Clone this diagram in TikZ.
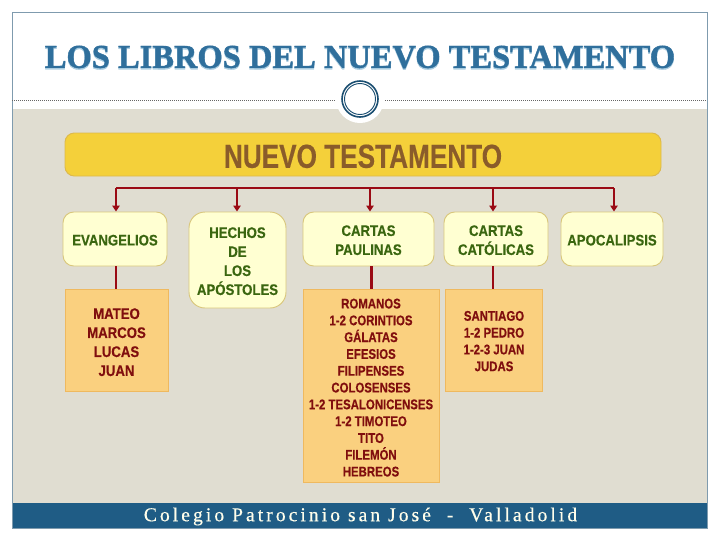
\documentclass[tikz,border=0pt]{standalone}
\usepackage{fontspec}
\usetikzlibrary{arrows.meta}
\setmainfont{Liberation Sans}
\newfontfamily\nar[FakeStretch=0.86,FakeBold=0.4]{Liberation Sans}
\newfontfamily\narr[FakeStretch=0.815,FakeBold=0.4]{Liberation Sans}
\newfontfamily\nart[FakeStretch=0.785,FakeBold=0.4]{Liberation Sans}
\newfontfamily\ttl[FakeStretch=0.975,FakeBold=1.2]{Liberation Serif}
\newfontfamily\foot[LetterSpace=15.5,FakeBold=0.4]{Liberation Serif}
\newcommand\lift[1]{\rule{0pt}{#1}}
\definecolor{bgray}{HTML}{E0DDD1}
\definecolor{foot}{HTML}{1F5C85}
\definecolor{frameC}{HTML}{7F9BAE}
\definecolor{ttlblue}{HTML}{2F6F9C}
\definecolor{ttlshadow}{HTML}{A9CCE0}
\definecolor{banner}{HTML}{F4D03A}
\definecolor{bannerE}{HTML}{DDB94C}
\definecolor{bannerT}{HTML}{8A5C2A}
\definecolor{paleY}{HTML}{FFFFD2}
\definecolor{paleE}{HTML}{D9C77C}
\definecolor{green}{HTML}{3A6610}
\definecolor{org}{HTML}{FAD07F}
\definecolor{orgE}{HTML}{EFB95F}
\definecolor{dred}{HTML}{800E0E}
\definecolor{conn}{HTML}{9A0A14}
\tikzset{
  x=0.75pt,y=-0.75pt,
  sz/.style 2 args={minimum width=#1*0.75pt,minimum height=#2*0.75pt,inner sep=0pt},
  headbox/.style={draw=paleE,fill=paleY,line width=0.7pt,rounded corners=8pt,text=green,align=center,
    font=\nar\bfseries\fontsize{11.5}{14.25}\selectfont},
  listbox/.style={draw=orgE,fill=org,line width=0.7pt,text=dred,align=center},
  link/.style={draw=conn,line width=2.2pt},
  arrowlink/.style={link,-{Triangle[width=5.5pt,length=4.5pt]}},
}
\begin{document}
\begin{tikzpicture}
\useasboundingbox (0,0) rectangle (720,540);
\fill[white] (0,0) rectangle (720,540);
\fill[bgray] (12,109) rectangle (707,503);
\fill[foot] (12,503) rectangle (707,528);
\draw[frameC,line width=0.75pt] (12,12.5) rectangle (707,528);
\draw[densely dotted,gray!80!black,line width=0.5pt] (12,100) -- (335,100);
\draw[densely dotted,gray!80!black,line width=0.5pt] (383,100) -- (707,100);
\fill[white] (360,99) circle[radius=24];
\draw[foot!85!black,line width=1.2pt] (360,99) circle[radius=18];
\draw[foot!85!black,line width=0.7pt] (360,99) circle[radius=15.5];
\node[text=ttlshadow,font=\ttl\bfseries\fontsize{25}{30}\selectfont] at (360,58.5) {LOS LIBROS DEL NUEVO TESTAMENTO};
\node (title) [text=ttlblue,font=\ttl\bfseries\fontsize{25}{30}\selectfont] at (360,57) {LOS LIBROS DEL NUEVO TESTAMENTO};
\node (nt) [sz={596}{43},draw=bannerE,fill=banner,line width=0.7pt,rounded corners=7pt,text=bannerT,
  font=\nart\bfseries\fontsize{25}{30}\selectfont,align=center] at (363,154.5) {\lift{20.2pt}NUEVO TESTAMENTO};
\node (ev) [headbox,sz={104}{54}] at (115,239) {\lift{9.8pt}EVANGELIOS};
\node (he) [headbox,sz={97}{96},rounded corners=12pt] at (237.5,260) {\lift{9.8pt}HECHOS\\DE\\LOS\\APÓSTOLES};
\node (pa) [headbox,sz={131}{54}] at (368.5,239) {\lift{9.8pt}CARTAS\\PAULINAS};
\node (ca) [headbox,sz={104}{54}] at (496,239) {\lift{9.8pt}CARTAS\\CATÓLICAS};
\node (ap) [headbox,sz={102}{54}] at (612,239) {\lift{9.8pt}APOCALIPSIS};
\node (l1) [listbox,sz={103}{102},font=\nar\bfseries\fontsize{11.5}{14.25}\selectfont] at (116.5,340) {\lift{11.3pt}MATEO\\MARCOS\\LUCAS\\JUAN};
\node (l2) [listbox,sz={136}{193},font=\narr\bfseries\fontsize{10.5}{12.6}\selectfont] at (371,385.5) {\lift{10.5pt}ROMANOS\\1-2 CORINTIOS\\GÁLATAS\\EFESIOS\\FILIPENSES\\COLOSENSES\\1-2 TESALONICENSES\\1-2 TIMOTEO\\TITO\\FILEMÓN\\HEBREOS};
\node (l3) [listbox,sz={97}{102},font=\narr\bfseries\fontsize{10.5}{12.6}\selectfont] at (494,340) {\lift{9pt}SANTIAGO\\1-2 PEDRO\\1-2-3 JUAN\\JUDAS};
\coordinate (c1) at (116,188);
\coordinate (c2) at (237,188);
\coordinate (c3) at (370,188);
\coordinate (c4) at (493,188);
\coordinate (c5) at (614,188);
\draw[link] (c1) -- (c5);
\draw[arrowlink] (c1) -- (c1 |- ev.north);
\draw[arrowlink] (c2) -- (c2 |- he.north);
\draw[arrowlink] (c3) -- (c3 |- pa.north);
\draw[arrowlink] (c4) -- (c4 |- ca.north);
\draw[arrowlink] (c5) -- (c5 |- ap.north);
\coordinate (d1) at (116,266);
\coordinate (d3) at (371.5,266);
\coordinate (d4) at (493,266);
\draw[link] (d1) -- (d1 |- l1.north);
\draw[link] (d3) -- (d3 |- l2.north);
\draw[link] (d4) -- (d4 |- l3.north);
\node (ft) [text=white!92!yellow,font=\foot\fontsize{14.7}{17}\selectfont] at (360.5,516.5) {Colegio Patrocinio san José \ - \ Valladolid};
\end{tikzpicture}
\end{document}
